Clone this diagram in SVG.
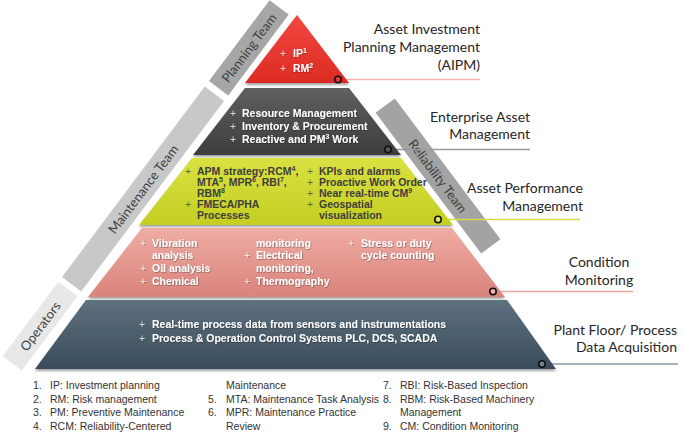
<svg xmlns="http://www.w3.org/2000/svg" width="685" height="433" viewBox="0 0 685 433">
<defs>
<linearGradient id="gRed" x1="0" y1="0" x2="0" y2="1"><stop offset="0" stop-color="#f2483f"/><stop offset="1" stop-color="#dc2b23"/></linearGradient>
<linearGradient id="gGray" x1="0" y1="0" x2="0" y2="1"><stop offset="0" stop-color="#606060"/><stop offset="1" stop-color="#3c3c3c"/></linearGradient>
<linearGradient id="gYel" x1="0" y1="0" x2="0" y2="1"><stop offset="0" stop-color="#d9e142"/><stop offset="1" stop-color="#c5ce22"/></linearGradient>
<linearGradient id="gPink" x1="0" y1="0" x2="0" y2="1"><stop offset="0" stop-color="#efaca4"/><stop offset="1" stop-color="#d9837b"/></linearGradient>
<linearGradient id="gBlue" x1="0" y1="0" x2="0" y2="1"><stop offset="0" stop-color="#5e717f"/><stop offset="1" stop-color="#3a4c5b"/></linearGradient>
<filter id="sh" x="-5%" y="-5%" width="110%" height="120%"><feDropShadow dx="0" dy="2" stdDeviation="1.2" flood-color="#555" flood-opacity="0.55"/></filter>
<filter id="tsh" x="-5%" y="-20%" width="110%" height="140%"><feDropShadow dx="0.6" dy="0.6" stdDeviation="0.5" flood-color="#000" flood-opacity="0.45"/></filter>
</defs>
<style>
.hd{font-family:Lato,"Liberation Sans",sans-serif;font-size:14px;fill:#262626}
.team{font-family:Lato,"Liberation Sans",sans-serif;font-size:13px;fill:#404040;text-anchor:middle;dominant-baseline:central}
.lt{font-family:"Liberation Sans",Arial,sans-serif;font-weight:bold;font-size:10.5px;fill:#ffffff}
.bl{font-weight:normal;fill-opacity:0.75}
.dk{fill:#3d3d3d}
.fn{font-family:"Liberation Sans",Arial,sans-serif;font-size:10.5px;fill:#333333}
.dot{stroke:#111111;stroke-width:1.6}
.sup{font-size:7px}
</style>
<rect width="685" height="433" fill="#ffffff"/>

<!-- team bands -->
<g id="band-operators" transform="translate(35,368) rotate(-53.13)"><rect x="-10" y="-33" width="93" height="24" fill="#e8e8e8"/><text class="team" x="36.5" y="-21">Operators</text></g>
<g id="band-maintenance" transform="translate(35,368) rotate(-53.13)"><rect x="89" y="-33" width="238" height="24" fill="#c8c8c8"/><text class="team" x="208" y="-21">Maintenance Team</text></g>
<g id="band-planning" transform="translate(35,368) rotate(-53.13)"><rect x="334" y="-33" width="101" height="24" fill="#a6a6a6"/><text class="team" x="384.5" y="-21">Planning Team</text></g>
<g id="band-reliability" transform="translate(557,368) rotate(53.13)"><rect x="-313" y="-32" width="176" height="24" fill="#a3a3a3"/><text class="team" x="-225" y="-20">Reliability Team</text></g>

<!-- connectors -->
<g id="connectors" fill="none" stroke-width="1.5">
<line x1="338" y1="79.5" x2="480" y2="79.5" stroke="#f2b8b0"/>
<line x1="388" y1="149.5" x2="530" y2="149.5" stroke="#9a9a9a"/>
<line x1="438" y1="219.5" x2="580" y2="219.5" stroke="#d4dc40"/>
<line x1="493" y1="291.5" x2="633" y2="291.5" stroke="#eba79f"/>
<line x1="542" y1="364" x2="678" y2="364" stroke="#8a9aa6"/>
</g>

<!-- layer 1 -->
<g id="layer-aipm">
<polygon points="297,15 349,83 245,83" fill="url(#gRed)" filter="url(#sh)"/>
<g filter="url(#tsh)">
<text class="lt bl" x="280" y="57">+</text><text class="lt" x="293" y="57">IP<tspan class="sup" dy="-4">1</tspan></text>
<text class="lt bl" x="280" y="72">+</text><text class="lt" x="293" y="72">RM<tspan class="sup" dy="-4">2</tspan></text>
</g>
<circle class="dot" cx="338" cy="79.5" r="3.2" fill="#e8352d"/>
<text class="hd" x="480" y="34" text-anchor="end">Asset Investment</text>
<text class="hd" x="480" y="52" text-anchor="end">Planning Management</text>
<text class="hd" x="480" y="70" text-anchor="end">(AIPM)</text>
</g>

<!-- layer 2 -->
<g id="layer-eam">
<polygon points="245,88 349,88 401,155 193,155" fill="url(#gGray)" filter="url(#sh)"/>
<g filter="url(#tsh)">
<text class="lt bl" x="230" y="117">+</text><text class="lt" x="242" y="117">Resource Management</text>
<text class="lt bl" x="230" y="130">+</text><text class="lt" x="242" y="130">Inventory &amp; Procurement</text>
<text class="lt bl" x="230" y="143">+</text><text class="lt" x="242" y="143">Reactive and PM<tspan class="sup" dy="-4">3</tspan><tspan dy="4"> Work</tspan></text>
</g>
<circle class="dot" cx="388" cy="149.5" r="3.2" fill="#555555"/>
<text class="hd" x="530" y="122" text-anchor="end">Enterprise Asset</text>
<text class="hd" x="530" y="139" text-anchor="end">Management</text>
</g>

<!-- layer 3 -->
<g id="layer-apm">
<polygon points="192,158 401,158 453,225 139,225" fill="url(#gYel)" filter="url(#sh)"/>
<g font-size="10px">
<text class="lt bl dk" x="185" y="175" font-size="10px">+</text><text class="lt dk" x="197" y="175" font-size="10px">APM strategy:RCM<tspan class="sup" dy="-4">4</tspan><tspan dy="4">,</tspan></text>
<text class="lt dk" x="197" y="186" font-size="10px">MTA<tspan class="sup" dy="-4">5</tspan><tspan dy="4">, MPR</tspan><tspan class="sup" dy="-4">6</tspan><tspan dy="4">, RBI</tspan><tspan class="sup" dy="-4">7</tspan><tspan dy="4">,</tspan></text>
<text class="lt dk" x="197" y="197" font-size="10px">RBM<tspan class="sup" dy="-4">8</tspan></text>
<text class="lt bl dk" x="185" y="208" font-size="10px">+</text><text class="lt dk" x="197" y="208" font-size="10px">FMECA/PHA</text>
<text class="lt dk" x="197" y="219" font-size="10px">Processes</text>
<text class="lt bl dk" x="307" y="175" font-size="10px">+</text><text class="lt dk" x="319" y="175" font-size="10px">KPIs and alarms</text>
<text class="lt bl dk" x="307" y="186" font-size="10px">+</text><text class="lt dk" x="319" y="186" font-size="10px">Proactive Work Order</text>
<text class="lt bl dk" x="307" y="197" font-size="10px">+</text><text class="lt dk" x="319" y="197" font-size="10px">Near real-time CM<tspan class="sup" dy="-4">9</tspan></text>
<text class="lt bl dk" x="307" y="208" font-size="10px">+</text><text class="lt dk" x="319" y="208" font-size="10px">Geospatial</text>
<text class="lt dk" x="319" y="219" font-size="10px">visualization</text>
</g>
<circle class="dot" cx="438" cy="219.5" r="3.2" fill="#e3ea5a"/>
<text class="hd" x="583" y="193" text-anchor="end">Asset Performance</text>
<text class="hd" x="583" y="211" text-anchor="end">Management</text>
</g>

<!-- layer 4 -->
<g id="layer-cm">
<polygon points="142,228 452,228 505,297 88,297" fill="url(#gPink)" filter="url(#sh)"/>
<g filter="url(#tsh)">
<text class="lt bl" x="140" y="247">+</text><text class="lt" x="152" y="247">Vibration</text>
<text class="lt" x="152" y="259">analysis</text>
<text class="lt bl" x="140" y="272">+</text><text class="lt" x="152" y="272">Oil analysis</text>
<text class="lt bl" x="140" y="285">+</text><text class="lt" x="152" y="285">Chemical</text>
<text class="lt" x="256" y="247">monitoring</text>
<text class="lt bl" x="244" y="259">+</text><text class="lt" x="256" y="259">Electrical</text>
<text class="lt" x="256" y="272">monitoring,</text>
<text class="lt bl" x="244" y="285">+</text><text class="lt" x="256" y="285">Thermography</text>
<text class="lt bl" x="348" y="247">+</text><text class="lt" x="361" y="247">Stress or duty</text>
<text class="lt" x="361" y="259">cycle counting</text>
</g>
<circle class="dot" cx="493" cy="291.5" r="3.2" fill="#f0b0a8"/>
<text class="hd" x="599" y="267" text-anchor="middle">Condition</text>
<text class="hd" x="599" y="285" text-anchor="middle">Monitoring</text>
</g>

<!-- layer 5 -->
<g id="layer-pf">
<polygon points="86,300 507,300 556,369 35,369" fill="url(#gBlue)" filter="url(#sh)"/>
<g filter="url(#tsh)">
<text class="lt bl" x="139" y="328">+</text><text class="lt" x="152" y="328">Real-time process data from sensors and instrumentations</text>
<text class="lt bl" x="139" y="342">+</text><text class="lt" x="152" y="342">Process &amp; Operation Control Systems PLC, DCS, SCADA</text>
</g>
<circle class="dot" cx="542" cy="364" r="3.2" fill="#6f8491"/>
<text class="hd" x="677" y="335" text-anchor="end">Plant Floor/ Process</text>
<text class="hd" x="677" y="352" text-anchor="end">Data Acquisition</text>
</g>

<!-- footnotes -->
<g id="footnotes" class="fn">
<text class="fn" x="33" y="389">1.</text><text class="fn" x="50" y="389">IP: Investment planning</text>
<text class="fn" x="33" y="403">2.</text><text class="fn" x="50" y="403">RM: Risk management</text>
<text class="fn" x="33" y="416">3.</text><text class="fn" x="50" y="416">PM: Preventive Maintenance</text>
<text class="fn" x="33" y="430">4.</text><text class="fn" x="50" y="430">RCM: Reliability-Centered</text>
<text class="fn" x="226" y="389">Maintenance</text>
<text class="fn" x="208" y="403">5.</text><text class="fn" x="226" y="403">MTA: Maintenance Task Analysis</text>
<text class="fn" x="208" y="416">6.</text><text class="fn" x="226" y="416">MPR: Maintenance Practice</text>
<text class="fn" x="226" y="430">Review</text>
<text class="fn" x="383" y="389">7.</text><text class="fn" x="400" y="389">RBI: Risk-Based Inspection</text>
<text class="fn" x="383" y="403">8.</text><text class="fn" x="400" y="403">RBM: Risk-Based Machinery</text>
<text class="fn" x="400" y="416">Management</text>
<text class="fn" x="383" y="430">9.</text><text class="fn" x="400" y="430">CM: Condition Monitoring</text>
</g>
</svg>
